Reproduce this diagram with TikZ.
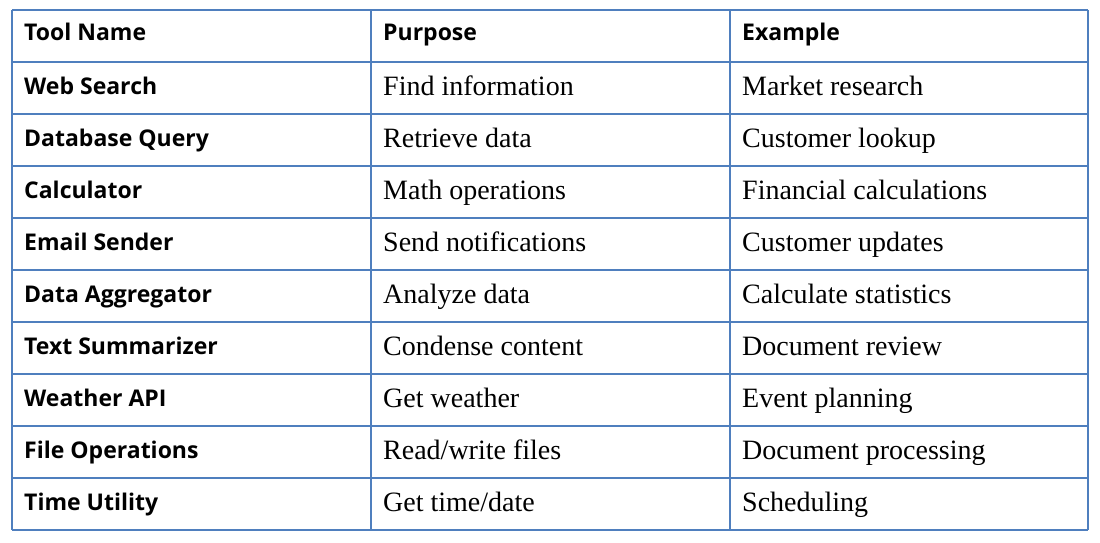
\documentclass[tikz,border=0pt]{standalone}
\usepackage{fontspec}
\setmainfont{Liberation Serif}
\newfontfamily\headfont{Open Sans}
\definecolor{gridblue}{HTML}{4F7FBE}
\tikzset{
  headcell/.style={anchor=base west, inner sep=0pt, font=\headfont\bfseries\fontsize{23}{26}\selectfont},
  bodycell/.style={anchor=base west, inner sep=0pt, font=\fontsize{28}{32}\selectfont},
  gridline/.style={draw=gridblue, line width=2pt}
}
\begin{document}
\begin{tikzpicture}[x=1pt,y=-1pt]
  \useasboundingbox (0,0) rectangle (1100,542);
  % grid
  \foreach \r in {0,...,10}
    \draw[gridline] (12,10+52*\r) -- (1088,10+52*\r);
  \foreach \c in {12,371,730,1088}
    \draw[gridline] (\c,10) -- (\c,530);
  % header row
  \node[headcell] (h1) at (24,40) {Tool Name};
  \node[headcell] (h2) at (383,40) {Purpose};
  \node[headcell] (h3) at (742,40) {Example};
  % body rows
  \foreach \name/\purpose/\example [count=\i] in {
      Web Search/Find information/Market research,
      Database Query/Retrieve data/Customer lookup,
      Calculator/Math operations/Financial calculations,
      Email Sender/Send notifications/Customer updates,
      Data Aggregator/Analyze data/Calculate statistics,
      Text Summarizer/Condense content/Document review,
      Weather API/Get weather/Event planning,
      File Operations/Read\slash write files/Document processing,
      Time Utility/Get time\slash date/Scheduling} {
    \node[headcell] (n\i) at (24,10+52*\i+32) {\name};
    \node[bodycell] (p\i) at (383,10+52*\i+33) {\purpose};
    \node[bodycell] (e\i) at (742,10+52*\i+33) {\example};
  }
\end{tikzpicture}
\end{document}
